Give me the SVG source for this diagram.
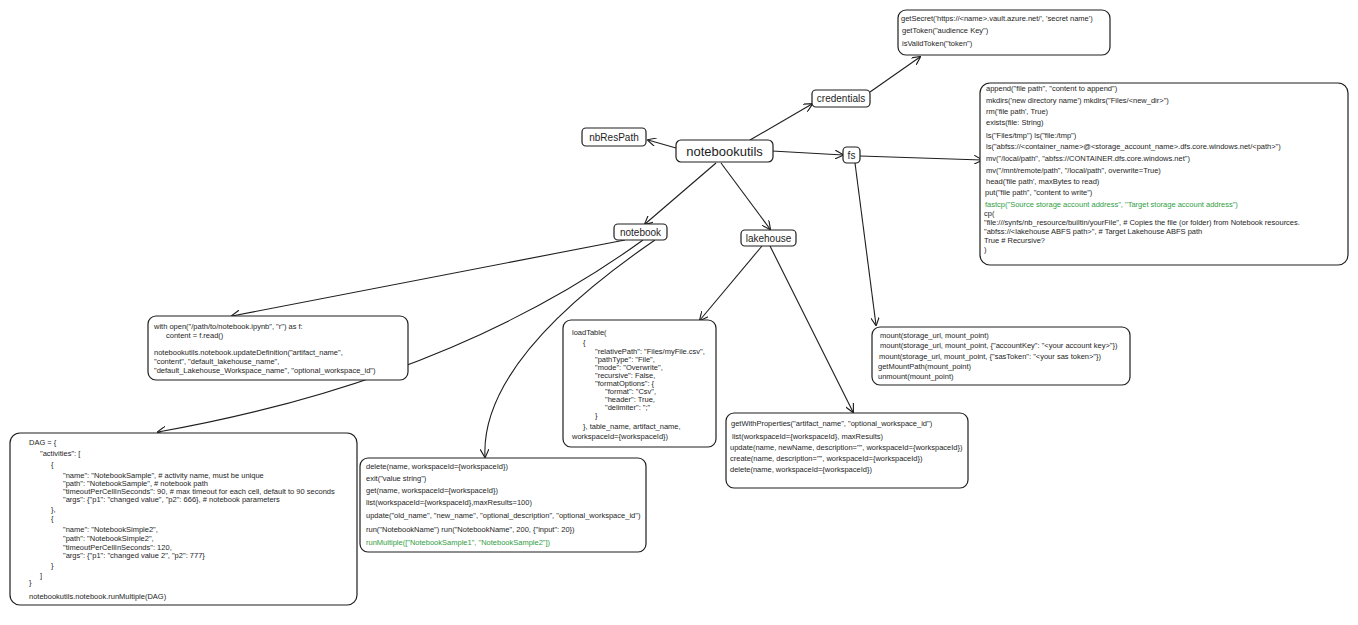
<svg xmlns="http://www.w3.org/2000/svg" width="1358" height="625" viewBox="0 0 1358 625">
<style>
text{font-family:"Liberation Sans",Arial,sans-serif;fill:#1e1e1e}
.c{font-size:7.5px}
.g{fill:#2f9e44}
.n{font-size:10px}
.box{fill:#fff;stroke:#1e1e1e;stroke-width:1.2}
.e path{fill:none;stroke:#1e1e1e;stroke-width:1.1;marker-end:url(#a)}
</style>
<defs><marker id="a" viewBox="0 0 10 10" refX="9" refY="5" markerWidth="8" markerHeight="8" orient="auto-start-reverse"><path d="M0,0L10,5L0,10" fill="none" stroke="#1e1e1e" stroke-width="1.3"/></marker></defs>
<rect width="1358" height="625" fill="#fff"/>
<g class="e" id="connectors">
<path d="M676,148L648,140"/>
<path d="M750,140L812,104"/>
<path d="M870,92L920,57"/>
<path d="M772,151L843,155"/>
<path d="M860,156L982,160"/>
<path d="M855,163L876,325"/>
<path d="M716,163L645,224"/>
<path d="M721,163L770,229"/>
<path d="M625,240L232,316"/>
<path d="M643,240Q450,380 158,432"/>
<path d="M655,240Q480,360 485,457"/>
<path d="M762,246L700,320"/>
<path d="M770,246L853,412"/>
</g>
<g id="notebookutils"><rect class="box" x="676" y="140" width="97" height="22" rx="5"/><text x="724.5" y="156" font-size="13" text-anchor="middle">notebookutils</text></g>
<g id="nbResPath"><rect class="box" x="582" y="128" width="64" height="18" rx="4"/><text x="614" y="141" class="n" text-anchor="middle">nbResPath</text></g>
<g id="credentials"><rect class="box" x="812" y="90" width="58" height="17" rx="4"/><text x="841" y="102" class="n" text-anchor="middle">credentials</text></g>
<g id="fs"><rect class="box" x="843" y="147" width="17" height="16" rx="4"/><text x="851.5" y="159" class="n" text-anchor="middle">fs</text></g>
<g id="notebook"><rect class="box" x="614" y="224" width="53" height="16" rx="4"/><text x="640.5" y="236" class="n" text-anchor="middle">notebook</text></g>
<g id="lakehouse"><rect class="box" x="741" y="230" width="55" height="16" rx="4"/><text x="768.5" y="242" class="n" text-anchor="middle">lakehouse</text></g>
<g id="credBox"><rect class="box" x="898" y="10" width="212" height="45" rx="8"/>
<text class="c" x="901" y="21">getSecret('https://&lt;name&gt;.vault.azure.net/', 'secret name')</text>
<text class="c" x="902" y="33">getToken("audience Key")</text>
<text class="c" x="902" y="46">isValidToken("token")</text></g>
<g id="fsBox"><rect class="box" x="980" y="83" width="368" height="182" rx="10"/>
<text class="c" x="986" y="91">append("file path", "content to append")</text>
<text class="c" x="986" y="103">mkdirs('new directory name')  mkdirs("Files/&lt;new_dir&gt;")</text>
<text class="c" x="986" y="114">rm('file path', True)</text>
<text class="c" x="986" y="125">exists(file: String)</text>
<text class="c" x="986" y="138">ls("Files/tmp")   ls("file:/tmp")</text>
<text class="c" x="986" y="149">ls("abfss://&lt;container_name&gt;@&lt;storage_account_name&gt;.dfs.core.windows.net/&lt;path&gt;")</text>
<text class="c" x="986" y="161">mv("/local/path", "abfss://CONTAINER.dfs.core.windows.net")</text>
<text class="c" x="986" y="173">mv("/mnt/remote/path", "/local/path", overwrite=True)</text>
<text class="c" x="986" y="184">head('file path', maxBytes to read)</text>
<text class="c" x="985" y="195">put("file path", "content to write")</text>
<text class="c g" x="985" y="207">fastcp("Source storage account address", "Target storage account address")</text>
<text class="c" x="984" y="216">cp(</text>
<text class="c" x="984" y="225">"file:///synfs/nb_resource/builtin/yourFile",         # Copies the file (or folder) from Notebook resources.</text>
<text class="c" x="984" y="234">"abfss://&lt;lakehouse ABFS path&gt;",         # Target Lakehouse ABFS path</text>
<text class="c" x="984" y="243">True          # Recursive?</text>
<text class="c" x="984" y="252">)</text></g>
<g id="mountBox"><rect class="box" x="872" y="327" width="258" height="58" rx="8"/>
<text class="c" x="880" y="338">mount(storage_url, mount_point)</text>
<text class="c" x="880" y="348">mount(storage_url, mount_point, {"accountKey": "&lt;your account key&gt;"})</text>
<text class="c" x="879" y="359">mount(storage_url, mount_point, {"sasToken": "&lt;your sas token&gt;"})</text>
<text class="c" x="878" y="369">getMountPath(mount_point)</text>
<text class="c" x="878" y="379">unmount(mount_point)</text></g>
<g id="lakehouseBox"><rect class="box" x="726" y="413" width="242" height="75" rx="8"/>
<text class="c" x="731" y="426">getWithProperties("artifact_name", "optional_workspace_id")</text>
<text class="c" x="732" y="439">list(workspaceId={workspaceId}, maxResults)</text>
<text class="c" x="730" y="450">update(name, newName, description="", workspaceId={workspaceId})</text>
<text class="c" x="730" y="461">create(name, description="", workspaceId={workspaceId})</text>
<text class="c" x="730" y="472">delete(name, workspaceId={workspaceId})</text></g>
<g id="loadTableBox"><rect class="box" x="563" y="320" width="153" height="127" rx="8"/>
<text class="c" x="572" y="335">loadTable(</text>
<text class="c" x="583" y="345">{</text>
<text class="c" x="595" y="354">"relativePath": "Files/myFile.csv",</text>
<text class="c" x="595" y="362">"pathType": "File",</text>
<text class="c" x="595" y="370">"mode": "Overwrite",</text>
<text class="c" x="595" y="378">"recursive": False,</text>
<text class="c" x="595" y="386">"formatOptions": {</text>
<text class="c" x="605" y="394">"format": "Csv",</text>
<text class="c" x="605" y="402">"header": True,</text>
<text class="c" x="605" y="410">"delimiter": ";"</text>
<text class="c" x="595" y="418">}</text>
<text class="c" x="583" y="429">}, table_name, artifact_name,</text>
<text class="c" x="572" y="439">workspaceId={workspaceId})</text></g>
<g id="codeBox"><rect class="box" x="148" y="316" width="260" height="64" rx="8"/>
<text class="c" x="154" y="329">with open("/path/to/notebook.ipynb", "r") as f:</text>
<text class="c" x="166" y="338">content = f.read()</text>
<text class="c" x="154" y="355">notebookutils.notebook.updateDefinition("artifact_name",</text>
<text class="c" x="154" y="364">"content", "default_lakehouse_name",</text>
<text class="c" x="154" y="373">"default_Lakehouse_Workspace_name", "optional_workspace_id")</text></g>
<g id="dagBox"><rect class="box" x="10" y="433" width="347" height="172" rx="10"/>
<text class="c" x="29" y="445">DAG = {</text>
<text class="c" x="40" y="456">"activities": [</text>
<text class="c" x="51" y="467">{</text>
<text class="c" x="63" y="478">"name": "NotebookSample", # activity name, must be unique</text>
<text class="c" x="63" y="486">"path": "NotebookSample", # notebook path</text>
<text class="c" x="63" y="494">"timeoutPerCellInSeconds": 90, # max timeout for each cell, default to 90 seconds</text>
<text class="c" x="63" y="502">"args": {"p1": "changed value", "p2": 666}, # notebook parameters</text>
<text class="c" x="51" y="512">},</text>
<text class="c" x="51" y="521">{</text>
<text class="c" x="63" y="532">"name": "NotebookSimple2",</text>
<text class="c" x="63" y="541">"path": "NotebookSimple2",</text>
<text class="c" x="63" y="550">"timeoutPerCellInSeconds": 120,</text>
<text class="c" x="63" y="558">"args": {"p1": "changed value 2", "p2": 777}</text>
<text class="c" x="51" y="568">}</text>
<text class="c" x="40" y="578">]</text>
<text class="c" x="29" y="585">}</text>
<text class="c" x="29" y="599">notebookutils.notebook.runMultiple(DAG)</text></g>
<g id="notebookBox"><rect class="box" x="360" y="458" width="286" height="94" rx="8"/>
<text class="c" x="366" y="469">delete(name, workspaceId={workspaceId})</text>
<text class="c" x="366" y="481">exit("value string")</text>
<text class="c" x="366" y="493">get(name, workspaceId={workspaceId})</text>
<text class="c" x="366" y="505">list(workspaceId={workspaceId},maxResults=100)</text>
<text class="c" x="366" y="518">update("old_name", "new_name", "optional_description", "optional_workspace_id")</text>
<text class="c" x="366" y="532">run("NotebookName")    run("NotebookName", 200, {"input": 20})</text>
<text class="c g" x="366" y="545">runMultiple(["NotebookSample1", "NotebookSample2"])</text></g>
</svg>
